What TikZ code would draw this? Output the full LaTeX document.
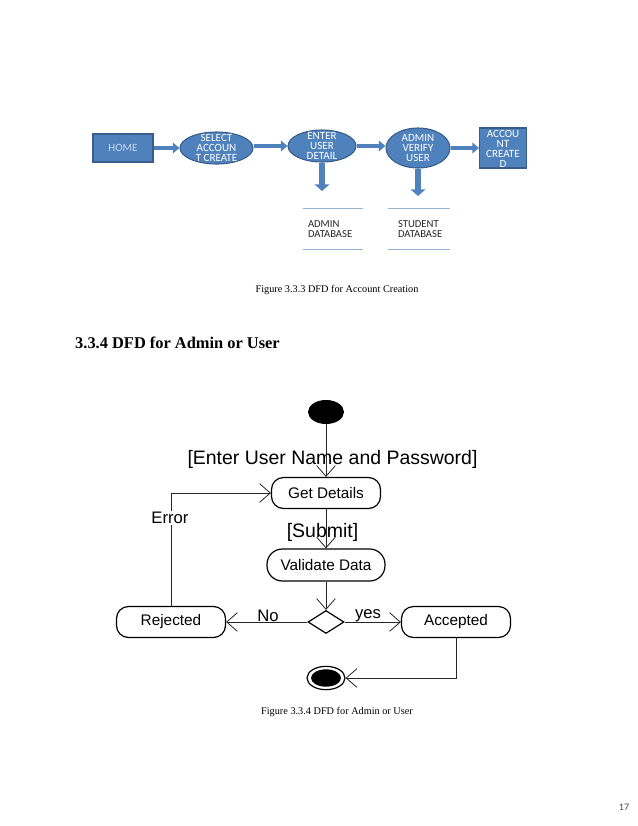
\documentclass[tikz,border=0pt]{standalone}
\usepackage{fontspec}
\setmainfont{Liberation Serif}
\newfontfamily\calib{Carlito}
\newfontfamily\arialf{Liberation Sans}
\usetikzlibrary{shapes.geometric,arrows.meta}
\definecolor{dfdblue}{HTML}{4F81BD}
\definecolor{dfdedge}{HTML}{385D8A}
\definecolor{dbline}{HTML}{95B3D7}
\definecolor{homecol}{HTML}{C6D9F1}
\begin{document}
\begin{tikzpicture}[x=0.75pt,y=-0.75pt,
  bluebox/.style={draw=dfdedge, fill=dfdblue, line width=0.8pt, inner sep=0pt},
  blueell/.style={bluebox, ellipse},
  bluetext/.style={text=white, inner sep=0pt, align=center, font=\calib\fontsize{8.3}{7.6}\selectfont},
  bluearrow/.style={draw=dfdblue, line width=2.6pt, -{Triangle[length=5pt,width=8pt]}},
  downarrow/.style={draw=dfdblue, line width=5pt, -{Triangle[length=5pt,width=11pt]}},
  dbstore/.style={minimum height=30pt, align=left, inner ysep=0pt, font=\calib\fontsize{8}{7.5}\selectfont, text=black!85},
  dbedge/.style={draw=dbline, line width=0.8pt},
  state/.style={draw, line width=0.9pt, rounded corners=9pt, minimum width=81.75pt, minimum height=23.25pt, inner sep=0pt, font=\arialf\fontsize{11.5}{13}\selectfont},
  flow/.style={draw=black!85, line width=0.6pt, -{Straight Barb[length=8pt,width=14pt]}},
  lbl/.style={font=\arialf\fontsize{14.6}{16}\selectfont, inner sep=1pt},
  smalllbl/.style={font=\arialf\fontsize{12.5}{14}\selectfont, inner sep=1pt},
  caption/.style={font=\fontsize{7.7}{9}\selectfont, inner sep=0pt}
]
\useasboundingbox[fill=white] (0,0) rectangle (638,826);

% ---------- Figure 3.3.3 ----------
\node[bluebox, minimum width=45pt, minimum height=21pt] (home) at (123,148) {};
\node[bluetext, text=homecol] (home-t) at (home) {HOME};
\node[blueell, minimum width=54.75pt, minimum height=24pt] (sel) at (216.5,148) {};
\node[bluetext] (sel-t) at (sel) {SELECT\\ACCOUN\\T CREATE};
\node[blueell, minimum width=51pt, minimum height=24pt] (ent) at (322,146) {};
\node[bluetext] (ent-t) at (ent) {ENTER\\USER\\DETAIL};
\node[blueell, minimum width=48pt, minimum height=30pt] (adm) at (418,148) {};
\node[bluetext] (adm-t) at (adm) {ADMIN\\VERIFY\\USER};
\node[bluebox, minimum width=35.25pt, minimum height=30pt] (acc) at (503,148) {};
\node[bluetext] (acc-t) at (503,149) {ACCOU\\NT\\CREATE\\D};

\draw[bluearrow] (home.east) -- (home.east -| sel.west);
\draw[bluearrow] (sel.east |- ent.west) -- (ent.west);
\draw[bluearrow] (ent.east) -- (ent.east -| adm.west);
\draw[bluearrow] (adm.east) -- (adm.east -| acc.west);

\coordinate (ent-d) at (322,191);
\coordinate (adm-d) at (418,196);
\draw[downarrow] (ent.south) -- (ent-d);
\draw[downarrow] (adm.south) -- (adm-d);

\node[dbstore, text width=37.5pt, inner xsep=3.75pt] (db1) at (333,229) {ADMIN\\DATABASE};
\node[dbstore, text width=31.5pt, inner xsep=7.5pt] (db2) at (419,229) {STUDENT\\DATABASE};
\draw[dbedge] (db1.north west) -- (db1.north east);
\draw[dbedge] (db1.south west) -- (db1.south east);
\draw[dbedge] (db2.north west) -- (db2.north east);
\draw[dbedge] (db2.south west) -- (db2.south east);

\node[caption] (cap1) at (337,290) {Figure 3.3.3 DFD for Account Creation};

\node[font=\bfseries\fontsize{12.3}{14}\selectfont, inner sep=0pt] (head) at (177.5,343) {3.3.4 DFD for Admin or User};

% ---------- Figure 3.3.4 ----------
\node[ellipse, fill=black, minimum width=27pt, minimum height=18pt, inner sep=0pt] (start) at (326,412) {};
\node[state] (get) at (326,493) {Get Details};
\node[state, rounded corners=11.5pt, minimum width=88.5pt, minimum height=24pt] (val) at (326,565) {Validate Data};
\node[draw, diamond, line width=0.9pt, minimum width=27pt, minimum height=17.25pt, inner sep=0pt] (dec) at (326,622) {};
\node[state] (rej) at (171,622) {Rejected};
\node[state] (accp) at (456,622) {Accepted};
\node[draw, ellipse, line width=0.9pt, minimum width=28.5pt, minimum height=17.5pt, inner sep=0pt] (fin) at (326,678) {};
\node[ellipse, fill=black, minimum width=22.5pt, minimum height=13pt, inner sep=0pt] (fin-in) at (fin) {};

\draw[flow] (start) -- (get);
\draw[flow] (get) -- (val);
\draw[flow] (val) -- (dec);
\draw[flow] (dec.west) -- (rej.east);
\draw[flow] (dec.east) -- (accp.west);
\draw[flow] (accp.south) |- (fin.east);
\draw[flow] (rej.north) |- (get.west);

\node[lbl] (l-enter) at (332.5,459) {[Enter User Name and Password]};
\node[lbl] (l-sub) at (322.5,532) {[Submit]};
\node[smalllbl, fill=white] (l-err) at (170,518) {Error};
\node[smalllbl] (l-no) at (268,616) {No};
\node[smalllbl] (l-yes) at (368,616) {yes};

\node[caption] (cap2) at (337,712) {Figure 3.3.4 DFD for Admin or User};

\node[font=\calib\fontsize{7.5}{9}\selectfont, text=black!70, inner sep=0pt] (pgno) at (624,807) {17};
\end{tikzpicture}
\end{document}
